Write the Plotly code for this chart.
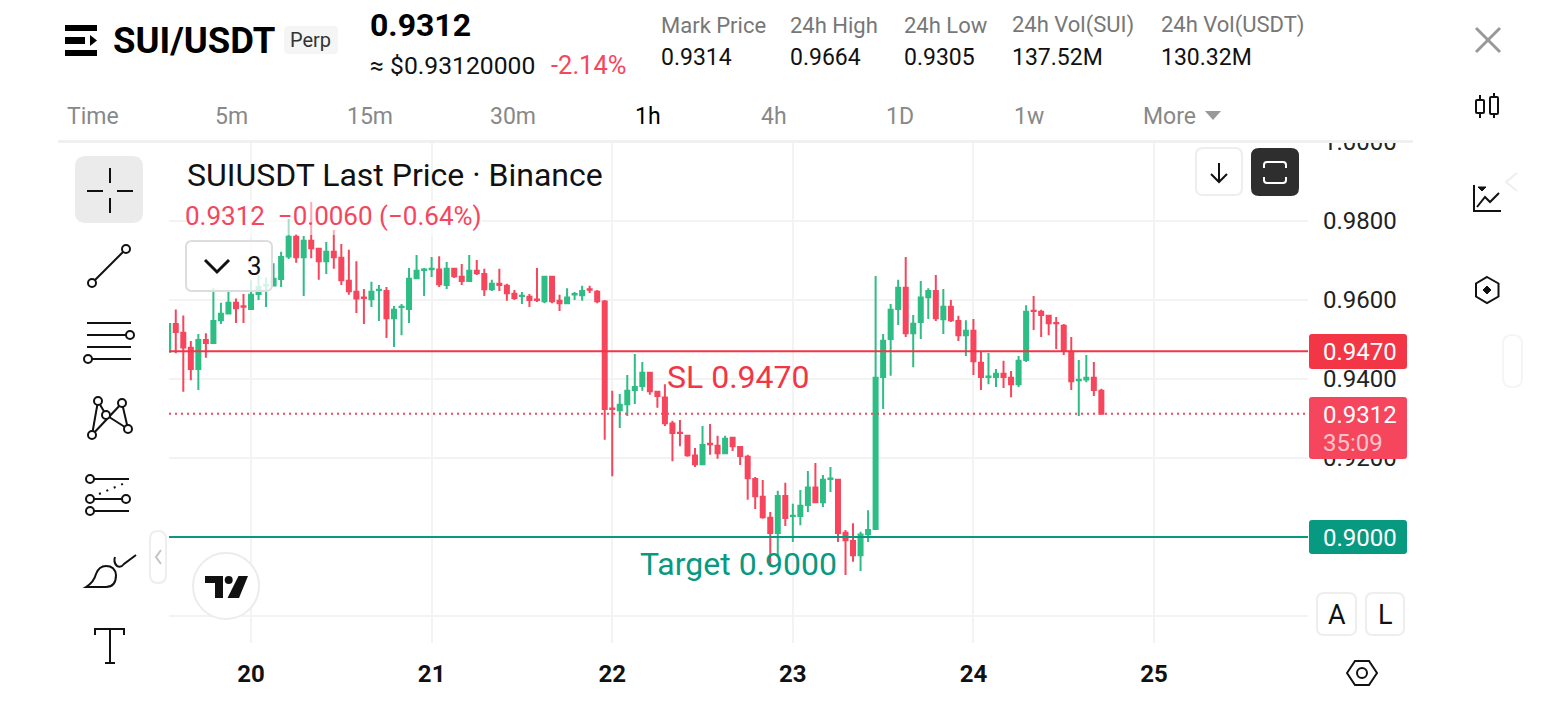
import pandas as pd
import plotly.graph_objects as go

# hourly candles, first one is the 19th 13:00
first_bar = "2025-01-19 13:00"

opens = [
    .9469, .9539, .9517, .9479, .9425, .9499, .9491, .9549, .9566, .9593, .9584,
    .9577, .9615, .9637, .9637, .9653, .9710, .9760, .9708, .9750, .9730, .9698, .9722, .9707, .9649, .9621,
    .9606, .9602, .9625, .9623, .9554, .9582, .9577, .9655, .9676, .9678, .9677, .9638, .9679, .9659, .9648,
    .9674, .9666, .9627, .9641, .9636, .9616, .9610, .9608, .9601, .9597, .9659, .9598, .9592, .9614, .9612,
    .9627, .9621, .9596, .9325, .9321, .9336, .9372, .9382, .9416, .9368, .9353, .9287, .9264, .9256, .9206,
    .9184, .9236, .9231, .9212, .9251, .9228, .9203, .9147, .9102, .9049, .9010, .9104, .9053, .9053, .9081,
    .9125, .9088, .9147, .9145, .9011, .8990, .8954, .9007, .9020, .9405, .9501, .9577, .9631, .9516, .9544,
    .9607, .9623, .9551, .9583, .9547, .9511, .9522, .9441, .9405, .9405, .9413, .9403, .9387, .9448, .9573,
    .9570, .9560, .9542, .9535, .9469, .9397, .9399, .9403, .9370,
]
closes = [
    .9539, .9519, .9480, .9425, .9499, .9491, .9547, .9565, .9593, .9579, .9583,
    .9613, .9633, .9638, .9654, .9709, .9760, .9708, .9750, .9731, .9698, .9722, .9708, .9650, .9622, .9604,
    .9605, .9621, .9626, .9554, .9575, .9583, .9654, .9674, .9677, .9679, .9640, .9679, .9660, .9648, .9674,
    .9668, .9627, .9641, .9638, .9617, .9605, .9611, .9600, .9600, .9659, .9597, .9592, .9606, .9615, .9623,
    .9626, .9597, .9324, .9324, .9335, .9370, .9380, .9416, .9369, .9357, .9288, .9263, .9263, .9207, .9184,
    .9233, .9235, .9212, .9249, .9230, .9205, .9149, .9103, .9050, .9010, .9104, .9048, .9054, .9079, .9125,
    .9088, .9145, .9148, .9010, .8992, .8954, .9006, .9018, .9403, .9497, .9575, .9631, .9516, .9540, .9606,
    .9623, .9554, .9583, .9549, .9511, .9522, .9445, .9405, .9406, .9413, .9405, .9387, .9446, .9570, .9572,
    .9562, .9541, .9541, .9473, .9394, .9398, .9403, .9372, .9312,
]
highs = [
    .9541, .9576, .9561, .9496, .9514, .9516, .9630, .9593, .9621, .9604, .9615,
    .9651, .9663, .9657, .9693, .9722, .9805, .9767, .9762, .9848, .9732, .9747, .9777, .9742, .9727, .9698,
    .9628, .9646, .9638, .9633, .9585, .9590, .9681, .9714, .9681, .9709, .9711, .9696, .9681, .9691, .9714,
    .9701, .9679, .9651, .9679, .9641, .9625, .9620, .9615, .9681, .9661, .9661, .9613, .9630, .9620, .9636,
    .9636, .9625, .9600, .9370, .9362, .9410, .9463, .9443, .9418, .9370, .9387, .9294, .9296, .9258, .9225,
    .9281, .9286, .9256, .9256, .9253, .9230, .9208, .9152, .9144, .9063, .9117, .9137, .9084, .9119, .9167,
    .9187, .9157, .9177, .9147, .9018, .9035, .9013, .9068, .9661, .9514, .9590, .9651, .9709, .9562, .9648,
    .9630, .9663, .9628, .9600, .9560, .9549, .9552, .9471, .9466, .9425, .9446, .9420, .9458, .9587, .9610,
    .9575, .9562, .9557, .9539, .9506, .9448, .9461, .9443, .9375,
]
lows = [
    .9467, .9465, .9368, .9397, .9372, .9454, .9489, .9539, .9564, .9542, .9542,
    .9575, .9600, .9582, .9634, .9633, .9704, .9694, .9610, .9706, .9651, .9666, .9679, .9638, .9613, .9567,
    .9539, .9582, .9547, .9504, .9481, .9511, .9542, .9653, .9610, .9658, .9633, .9628, .9656, .9638, .9646,
    .9663, .9610, .9623, .9623, .9598, .9600, .9590, .9582, .9595, .9592, .9592, .9572, .9590, .9600, .9598,
    .9618, .9592, .9246, .9154, .9276, .9306, .9337, .9370, .9360, .9327, .9281, .9192, .9230, .9203, .9177,
    .9182, .9208, .9198, .9210, .9218, .9182, .9094, .9071, .9046, .8929, .8950, .9028, .8987, .9030, .9063,
    .9086, .9076, .9114, .8987, .8904, .8937, .8914, .8987, .9018, .9324, .9408, .9537, .9506, .9430, .9501,
    .9552, .9547, .9514, .9544, .9496, .9458, .9410, .9372, .9387, .9380, .9377, .9354, .9380, .9443, .9524,
    .9506, .9511, .9476, .9461, .9372, .9306, .9392, .9357, .9312,
]

price_ticks = [1.0, 0.98, 0.96, 0.94, 0.92, 0.90, 0.88]
price_labels = ["1.0000", "0.9800", "0.9600", "0.9400", "0.9200", "0.9000", ""]
day_ticks = ["2025-01-20", "2025-01-21", "2025-01-22", "2025-01-23", "2025-01-24", "2025-01-25"]
day_labels = ["20", "21", "22", "23", "24", "25"]

sl_price = 0.9470
target_price = 0.9000
last_price = 0.9312

stat_titles = ["Mark Price", "24h High", "24h Low", "24h Vol(SUI)", "24h Vol(USDT)"]
stat_values = ["0.9314", "0.9664", "0.9305", "137.52M", "130.32M"]
stat_x = [661, 790, 904, 1012, 1161]
tab_names = ["Time", "5m", "15m", "30m", "1h", "4h", "1D", "1w", "More"]
tab_x = [67, 215, 347, 490, 635, 761, 886, 1014, 1143]

GREEN = "#2ebd85"
RED = "#f6465d"
LINE_RED = "#f23645"
LINE_GREEN = "#089981"
GRID = "#f3f3f3"
FONT = "Roboto"

times = pd.date_range(first_bar, periods=len(opens), freq="h")

fig = go.Figure()
fig.add_trace(go.Candlestick(
    x=times, open=opens, high=highs, low=lows, close=closes,
    increasing=dict(line=dict(color=GREEN, width=2), fillcolor=GREEN),
    decreasing=dict(line=dict(color=RED, width=2), fillcolor=RED),
    whiskerwidth=0, hoverinfo="skip",
))
# empty trace so the page-sized overlay axes always exist
fig.add_trace(go.Scatter(x=[], y=[], xaxis="x2", yaxis="y2", hoverinfo="skip"))

shapes = []
notes = []


def stroke(path, color="#111111", width=2, fill=None):
    shapes.append(dict(type="path", path=path, xref="x2", yref="y2", layer="above",
                       line=dict(color=color, width=width),
                       fillcolor=fill if fill else "rgba(0,0,0,0)"))


def seg(x0, y0, x1, y1, color="#111111", width=2):
    stroke(f"M{x0},{y0} L{x1},{y1}", color, width)


def round_box(x0, y0, x1, y1, r=8, fill=None, color=None, width=2):
    p = (f"M{x0+r},{y0} H{x1-r} Q{x1},{y0} {x1},{y0+r} V{y1-r} Q{x1},{y1} {x1-r},{y1} "
         f"H{x0+r} Q{x0},{y1} {x0},{y1-r} V{y0+r} Q{x0},{y0} {x0+r},{y0} Z")
    stroke(p, color if color else "rgba(0,0,0,0)", width if color else 0, fill)


def dot(cx, cy, r=4, color="#111111", width=2, fill="#ffffff"):
    shapes.append(dict(type="circle", xref="x2", yref="y2", layer="above",
                       x0=cx-r, x1=cx+r, y0=cy-r, y1=cy+r,
                       line=dict(color=color, width=width), fillcolor=fill))


def txt(x, y, s, size=22, color="#111111", weight=400, anchor="left"):
    # annotation box adds about a pixel on the left
    notes.append(dict(x=x - 1 if anchor == "left" else x, y=y, xref="x2", yref="y2", text=s, showarrow=False,
                      xanchor=anchor, yanchor="middle", borderpad=0,
                      font=dict(family=FONT, size=size, color=color, weight=weight)))


def hline(price, color, dash="solid"):
    shapes.append(dict(type="line", xref="x domain", yref="y", layer="above",
                       x0=0, x1=1, y0=price, y1=price,
                       line=dict(color=color, width=2, dash=dash)))


# price lines
hline(last_price, RED, "2px,4px")
hline(sl_price, LINE_RED)
hline(target_price, LINE_GREEN)

# header strip and clipped top label
shapes.append(dict(type="rect", xref="x2", yref="y2", layer="above", x0=1300, x1=1420, y0=120, y1=141,
                   fillcolor="#ffffff", line=dict(width=0)))
seg(58, 141.5, 1413, 141.5, "#f0f0f0", 3)

# hamburger logo
round_box(65, 25, 97, 31, 0, "#000000")
round_box(65, 37, 85, 44, 0, "#000000")
round_box(65, 50, 97, 56, 0, "#000000")
stroke("M90,35 L97,40.5 L90,46 Z", "#000000", 0, "#000000")

txt(113, 40, "SUI/USDT", 36.5, "#000000", 700)
round_box(284, 26, 338, 54, 4, "#f5f5f5")
txt(290, 40, "Perp", 20, "#333333")
txt(370, 25, "0.9312", 32, "#000000", 700)
txt(370, 65, "≈ $0.93120000", 24.7, "#111111")
txt(551, 65, "-2.14%", 25.5, RED)

for x, title, value in zip(stat_x, stat_titles, stat_values):
    txt(x, 25, title, 22, "#777777")
    txt(x, 57, value, 23, "#111111")

for x, name in zip(tab_x, tab_names):
    txt(x, 116, name, 23, "#000000" if name == "1h" else "#888888")
stroke("M1205,111 L1221,111 L1213,120 Z", "#999999", 0, "#999999")

# close button
seg(1476, 28, 1500, 52, "#999999", 3)
seg(1500, 28, 1476, 52, "#999999", 3)

# right icons
round_box(1476, 100, 1484, 113, 1, None, "#111111", 2)
seg(1480, 95, 1480, 100)
seg(1480, 113, 1480, 118)
round_box(1490, 97, 1498, 114, 1, None, "#111111", 2)
seg(1494, 93, 1494, 97)
seg(1494, 114, 1494, 118)
stroke("M1474,185 V211 H1501")
stroke("M1477,207 L1485,197 L1490,202 L1499,193")
stroke("M1478,187 H1486 L1482,191 Z", "#111111", 1, "#111111")
stroke("M1487,277 L1498.5,283.5 V296.5 L1487,303 L1476,296.5 V283.5 Z")
stroke("M1487,286 L1491,290 L1487,294 L1483,290 Z", "#111111", 1, "#111111")
stroke("M1517,173 L1506,182 L1517,191", "#eeeeee", 2)
round_box(1503, 335, 1522, 387, 9, None, "#f5f5f5", 2)

# left toolbar
round_box(75, 156, 143, 223, 11, "#ebebeb")
for a in [(110, 168, 110, 183), (110, 198, 110, 213), (87, 191, 103, 191), (117, 191, 133, 191)]:
    seg(*a)
seg(92, 283, 126, 249)
dot(92, 283)
dot(126, 249)
seg(87, 323, 131, 323)
seg(87, 335, 128, 335)
dot(130, 335)
seg(87, 347, 131, 347)
seg(88, 359, 131, 359)
dot(88, 359)
for a in [(98, 401, 92, 435), (92, 435, 122, 403), (106, 415, 128, 429), (122, 403, 128, 429), (98, 401, 106, 415)]:
    seg(*a)
for c in [(98, 401), (122, 403), (106, 415), (92, 435), (128, 429)]:
    dot(*c)
seg(90, 479, 129, 479)
dot(90, 479)
shapes.append(dict(type="line", xref="x2", yref="y2", layer="above", x0=99, y0=494, x1=125, y1=483,
                   line=dict(color="#111111", width=2, dash="2px,6px")))
seg(90, 499, 126, 499)
dot(90, 499)
dot(126, 499)
seg(90, 511, 129, 511)
dot(90, 511)
stroke("M86,587 Q94,582 96,574 Q99,566 106,566 Q115,566 116,575 Q116,587 106,587 Z")
stroke("M115,557 Q113,562 117,566 Q121,568 124,564 L136,555")
stroke("M95,635 V629 H124 V635 M110,629 V663 M105,663 H115")

# collapse handle and logo
round_box(150, 531, 166, 583, 8, "#ffffff", "#eeeeee", 2)
stroke("M161,550 L156,557 L161,564", "#c4c4c4", 2)
dot(226, 586, 33, "#ececec", 2, "#ffffff")
stroke("M205,576 H223 V598 H215 V583 H205 Z", "#111111", 0, "#111111")
stroke("M248,576 H238.5 L227.5,598 H239 Z", "#111111", 0, "#111111")
dot(228.7, 580, 4, "#111111", 0, "#111111")

# legend, translucent like the original
round_box(186, 200, 482, 235, 0, "rgba(255,255,255,0.55)")
txt(187, 175, "SUIUSDT Last Price · Binance", 32, "#111111")
txt(185, 216, "0.9312  −0.0060 (−0.64%)", 26, RED)
round_box(186, 241, 272, 291, 6, "rgba(255,255,255,0.8)", "#dddddd", 2)
stroke("M205,260 L217,272 L229,260", "#111111", 3)
txt(247, 266, "3", 26, "#111111")

# drawing captions
txt(667, 377, "SL 0.9470", 32, LINE_RED)
txt(640, 564, "Target 0.9000", 32, LINE_GREEN)

# price tags
round_box(1309, 334, 1407, 369, 3, LINE_RED)
txt(1323, 352, "0.9470", 24, "#ffffff")
round_box(1309, 397, 1407, 459, 3, RED)
txt(1323, 415, "0.9312", 24, "#ffffff")
txt(1323, 443, "35:09", 24, "#fcc5cc")
round_box(1309, 520, 1407, 554, 3, LINE_GREEN)
txt(1323, 538, "0.9000", 24, "#ffffff")

# chart buttons
round_box(1196, 148, 1242, 195, 7, "#ffffff", "#eeeeee", 2)
stroke("M1219,163 V182 M1211,174 L1219,182 L1227,174", "#111111", 2)
round_box(1251, 148, 1299, 196, 8, "#2e2e2e")
stroke("M1264,168 V165 Q1264,162 1267,162 H1283 Q1286,162 1286,165 V168", "#ffffff", 2)
stroke("M1264,177 V180 Q1264,183 1267,183 H1283 Q1286,183 1286,180 V177", "#ffffff", 2)
round_box(1317, 593, 1356, 635, 7, "#ffffff", "#eeeeee", 2)
txt(1336.5, 615, "A", 27, "#111111", 400, "center")
round_box(1366, 593, 1404, 635, 7, "#ffffff", "#eeeeee", 2)
txt(1385, 615, "L", 27, "#111111", 400, "center")
stroke("M1347,673 L1355,661 H1369 L1377,673 L1369,685 H1355 Z")
dot(1362, 673, 5)

hours_left = pd.Timedelta(hours=-10.9)
hours_right = pd.Timedelta(hours=140.46)
day0 = pd.Timestamp("2025-01-20")

fig.update_layout(
    width=1560, height=720,
    margin=dict(l=0, r=0, t=0, b=0),
    paper_bgcolor="#ffffff", plot_bgcolor="rgba(0,0,0,0)",
    showlegend=False, dragmode=False, boxgap=0.24,
    font=dict(family=FONT),
    xaxis=dict(domain=[169/1560, 1308/1560], range=[day0 + hours_left, day0 + hours_right],
               rangeslider=dict(visible=False), tickmode="array", tickvals=day_ticks, ticktext=day_labels,
               showgrid=True, gridcolor=GRID, gridwidth=2, zeroline=False, showline=False, ticks="",
               automargin=False, ticklabelstandoff=14,
               tickfont=dict(family=FONT, size=24, color="#111111", weight=700),
               anchor="y"),
    yaxis=dict(domain=[(720-643)/720, (720-142)/720], range=[0.87316, 1.0], side="right",
               tickmode="array", tickvals=price_ticks, ticktext=price_labels,
               showgrid=True, gridcolor=GRID, gridwidth=2, zeroline=False, showline=False, ticks="",
               automargin=False, ticklabelstandoff=14,
               tickfont=dict(family=FONT, size=24, color="#222222"),
               anchor="x"),
    xaxis2=dict(domain=[0, 1], range=[0, 1560], visible=False, anchor="y2", fixedrange=True, automargin=False),
    yaxis2=dict(domain=[0, 1], range=[720, 0], visible=False, anchor="x2", fixedrange=True, automargin=False),
    shapes=shapes, annotations=notes,
)

# default page margin would push the whole figure 8px down and right
fig.write_html("out.html", config={"displayModeBar": False}, post_script="document.body.style.margin='0';")
